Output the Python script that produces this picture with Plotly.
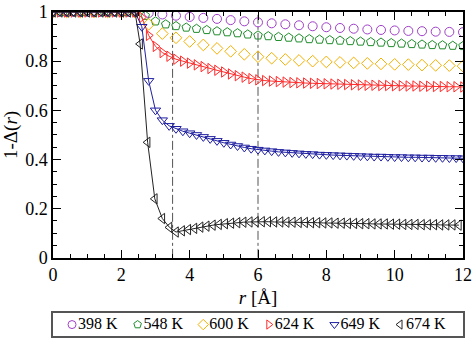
import plotly.graph_objects as go

# ---------------- data ----------------
labels = ["398 K", "548 K", "600 K", "624 K", "649 K", "674 K"]
colors = ["#A040C8", "#1E8C2A", "#F5B000", "#FF2A2A", "#1F1FA0", "#222222"]
symbols = ["circle-open", "pentagon-open", "diamond-open",
           "triangle-right-open", "triangle-down-open", "triangle-left-open"]
cutoffs = [3.5, 6.0]

r_398 = [0.0, 0.4, 0.8, 1.2, 1.6, 2.0, 2.4, 2.8, 3.2, 3.6, 4.0, 4.4, 4.8, 5.2, 5.6, 6.0,
         6.4, 6.8, 7.2, 7.6, 8.0, 8.4, 8.8, 9.2, 9.6, 10.0, 10.4, 10.8, 11.2, 11.6, 12.0]
v_398 = [1, 1, 1, 1, 1, 1, 1, 0.996, 0.99, 0.985, 0.98, 0.976, 0.972, 0.967, 0.962, 0.958,
         0.954, 0.95, 0.946, 0.942, 0.938, 0.935, 0.932, 0.929, 0.927, 0.925, 0.923, 0.922,
         0.92, 0.919, 0.918]

r_548 = [0.0, 0.3, 0.6, 0.9, 1.2, 1.5, 1.8, 2.1, 2.4, 2.7, 3.0, 3.3, 3.6, 3.9, 4.2, 4.5,
         4.8, 5.1, 5.4, 5.7, 6.0, 6.3, 6.6, 6.9, 7.2, 7.5, 7.8, 8.1, 8.4, 8.7, 9.0, 9.3,
         9.6, 9.9, 10.2, 10.5, 10.8, 11.1, 11.4, 11.7, 12.0]
v_548 = [1, 1, 1, 1, 1, 1, 1, 1, 1, 0.985, 0.962, 0.95, 0.943, 0.937, 0.932, 0.927,
         0.922, 0.918, 0.914, 0.909, 0.905, 0.902, 0.899, 0.896, 0.893, 0.89, 0.888, 0.886,
         0.884, 0.882, 0.88, 0.878, 0.876, 0.874, 0.872, 0.87, 0.868, 0.866, 0.865, 0.863,
         0.862]

r_600 = [0.0, 0.4, 0.8, 1.2, 1.6, 2.0, 2.4, 2.8, 3.2, 3.6, 4.0, 4.4, 4.8, 5.2, 5.6, 6.0,
         6.4, 6.8, 7.2, 7.6, 8.0, 8.4, 8.8, 9.2, 9.6, 10.0, 10.4, 10.8, 11.2, 11.6, 12.0]
v_600 = [1, 1, 1, 1, 1, 1, 1, 0.95, 0.912, 0.895, 0.88, 0.866, 0.852, 0.84, 0.828, 0.818,
         0.812, 0.807, 0.803, 0.8, 0.797, 0.795, 0.793, 0.791, 0.789, 0.787, 0.786, 0.784,
         0.783, 0.782, 0.78]

r_624 = [0.0, 0.2, 0.4, 0.6, 0.8, 1.0, 1.2, 1.4, 1.6, 1.8, 2.0, 2.2, 2.4,
         2.6, 2.8, 3.0, 3.2, 3.4, 3.6, 3.8, 4.0,
         4.2, 4.4, 4.6, 4.8, 5.0, 5.2, 5.4, 5.6, 5.8, 6.0,
         6.2, 6.4, 6.6, 6.8, 7.0, 7.2, 7.4, 7.6, 7.8, 8.0,
         8.2, 8.4, 8.6, 8.8, 9.0, 9.2, 9.4, 9.6, 9.8, 10.0,
         10.2, 10.4, 10.6, 10.8, 11.0, 11.2, 11.4, 11.6, 11.8, 12.0]
v_624 = [1, 1, 1, 1, 1, 1, 1, 1, 1, 1, 1, 1, 1,
         0.978, 0.905, 0.86, 0.835, 0.82, 0.808, 0.8, 0.792,
         0.785, 0.778, 0.77, 0.763, 0.756, 0.748, 0.741, 0.735, 0.729, 0.724,
         0.721, 0.719, 0.717, 0.715, 0.713, 0.712, 0.711, 0.71, 0.709, 0.708,
         0.707, 0.706, 0.705, 0.704, 0.703, 0.702, 0.702, 0.701, 0.701, 0.7,
         0.7, 0.699, 0.699, 0.698, 0.698, 0.697, 0.697, 0.696, 0.696, 0.695]

r_649 = list(r_624)
v_649 = [1, 1, 1, 1, 1, 1, 1, 1, 1, 1, 1, 1, 1,
         0.94, 0.72, 0.6, 0.56, 0.537, 0.525, 0.515, 0.507,
         0.5, 0.492, 0.484, 0.476, 0.468, 0.461, 0.455, 0.449, 0.444, 0.44,
         0.437, 0.434, 0.431, 0.429, 0.427, 0.425, 0.423, 0.422, 0.42, 0.419,
         0.418, 0.417, 0.416, 0.415, 0.414, 0.413, 0.412, 0.412, 0.411, 0.41,
         0.41, 0.409, 0.409, 0.408, 0.408, 0.407, 0.407, 0.406, 0.406, 0.405]

r_674 = [0.0, 0.2, 0.4, 0.6, 0.8, 1.0, 1.2, 1.4, 1.6, 1.8, 2.0, 2.2, 2.4,
         2.55, 2.77, 2.98, 3.2, 3.41, 3.6,
         3.78, 3.96, 4.14, 4.32, 4.5, 4.68, 4.86, 5.04, 5.22, 5.4,
         5.58, 5.76, 5.94, 6.12, 6.3, 6.48, 6.66, 6.84, 7.02, 7.2,
         7.38, 7.56, 7.74, 7.92, 8.1, 8.28, 8.46, 8.64, 8.82, 9.0,
         9.18, 9.36, 9.54, 9.72, 9.9, 10.08, 10.26, 10.44, 10.62, 10.8,
         10.98, 11.16, 11.34, 11.52, 11.7, 11.88]
v_674 = [1, 1, 1, 1, 1, 1, 1, 1, 1, 1, 1, 1, 1,
         0.87, 0.47, 0.24, 0.16, 0.124, 0.105,
         0.11, 0.115, 0.12, 0.125, 0.129, 0.133, 0.136, 0.139, 0.141, 0.143,
         0.145, 0.146, 0.147, 0.147, 0.147, 0.146, 0.146, 0.145, 0.145, 0.144,
         0.144, 0.143, 0.143, 0.142, 0.142, 0.141, 0.141, 0.14, 0.14, 0.139,
         0.139, 0.138, 0.138, 0.138, 0.137, 0.137, 0.136, 0.136, 0.136, 0.135,
         0.135, 0.135, 0.134, 0.134, 0.134, 0.133]

series_r = [r_398, r_548, r_600, r_624, r_649, r_674]
series_v = [v_398, v_548, v_600, v_624, v_649, v_674]
with_line = [False, False, False, True, True, True]

FONT = "Liberation Serif"

fig = go.Figure()

for r, v, lab, col, sym, ln in zip(series_r, series_v, labels, colors, symbols, with_line):
    fig.add_trace(go.Scatter(
        x=r, y=v, name=lab,
        mode="lines+markers" if ln else "markers",
        line=dict(color=col, width=1),
        marker=dict(symbol=sym, size=9, color=col, line=dict(width=1, color=col)),
        showlegend=False,
    ))

# legend drawn as a boxed strip below the plot
fig.add_trace(go.Scatter(
    x=list(range(len(labels))), y=[0.5] * len(labels),
    xaxis="x2", yaxis="y2",
    mode="markers+text", text=labels, textposition="middle right",
    textfont=dict(family=FONT, size=16, color="black"),
    marker=dict(symbol=symbols, size=8, color=colors, line=dict(width=1, color=colors)),
    cliponaxis=False, showlegend=False, hoverinfo="skip",
))

for c in cutoffs:
    fig.add_shape(type="line", xref="x", yref="y", x0=c, x1=c, y0=0, y1=1,
                  line=dict(color="#555555", width=1, dash="dashdot"), layer="below")

axis_common = dict(showline=True, linecolor="black", linewidth=1.5, mirror="allticks",
                   ticks="inside", ticklen=8, tickwidth=1, tickcolor="black",
                   showgrid=False, zeroline=False, ticklabeloverflow="allow",
                   tickfont=dict(family=FONT, size=18, color="black"))

fig.update_layout(
    width=474, height=348,
    margin=dict(l=53, r=11, t=6, b=2),
    paper_bgcolor="white", plot_bgcolor="white",
    font=dict(family=FONT, color="black"),
    xaxis=dict(domain=[0, 1], range=[0, 12], dtick=2, anchor="y",
               minor=dict(dtick=0.5, ticks="inside", ticklen=4, tickcolor="black"),
               title=dict(text="<i>r</i> [Å]", font=dict(family=FONT, size=19), standoff=6),
               **axis_common),
    yaxis=dict(domain=[0.2412, 1], range=[0, 1], dtick=0.2, anchor="x",
               minor=dict(dtick=0.05, ticks="inside", ticklen=4, tickcolor="black"),
               title=dict(text="1-Δ(<i>r</i>)", font=dict(family=FONT, size=19), standoff=6),
               **axis_common),
    xaxis2=dict(domain=[0, 1], range=[-0.29, 5.96], anchor="y2",
                showline=True, linecolor="#555555", linewidth=1.5, mirror=True,
                showticklabels=False, ticks="", showgrid=False, zeroline=False, fixedrange=True),
    yaxis2=dict(domain=[0, 0.0706], range=[0, 1], anchor="x2",
                showline=True, linecolor="#555555", linewidth=1.5, mirror=True,
                showticklabels=False, ticks="", showgrid=False, zeroline=False, fixedrange=True),
)

fig.write_html("out.html")
